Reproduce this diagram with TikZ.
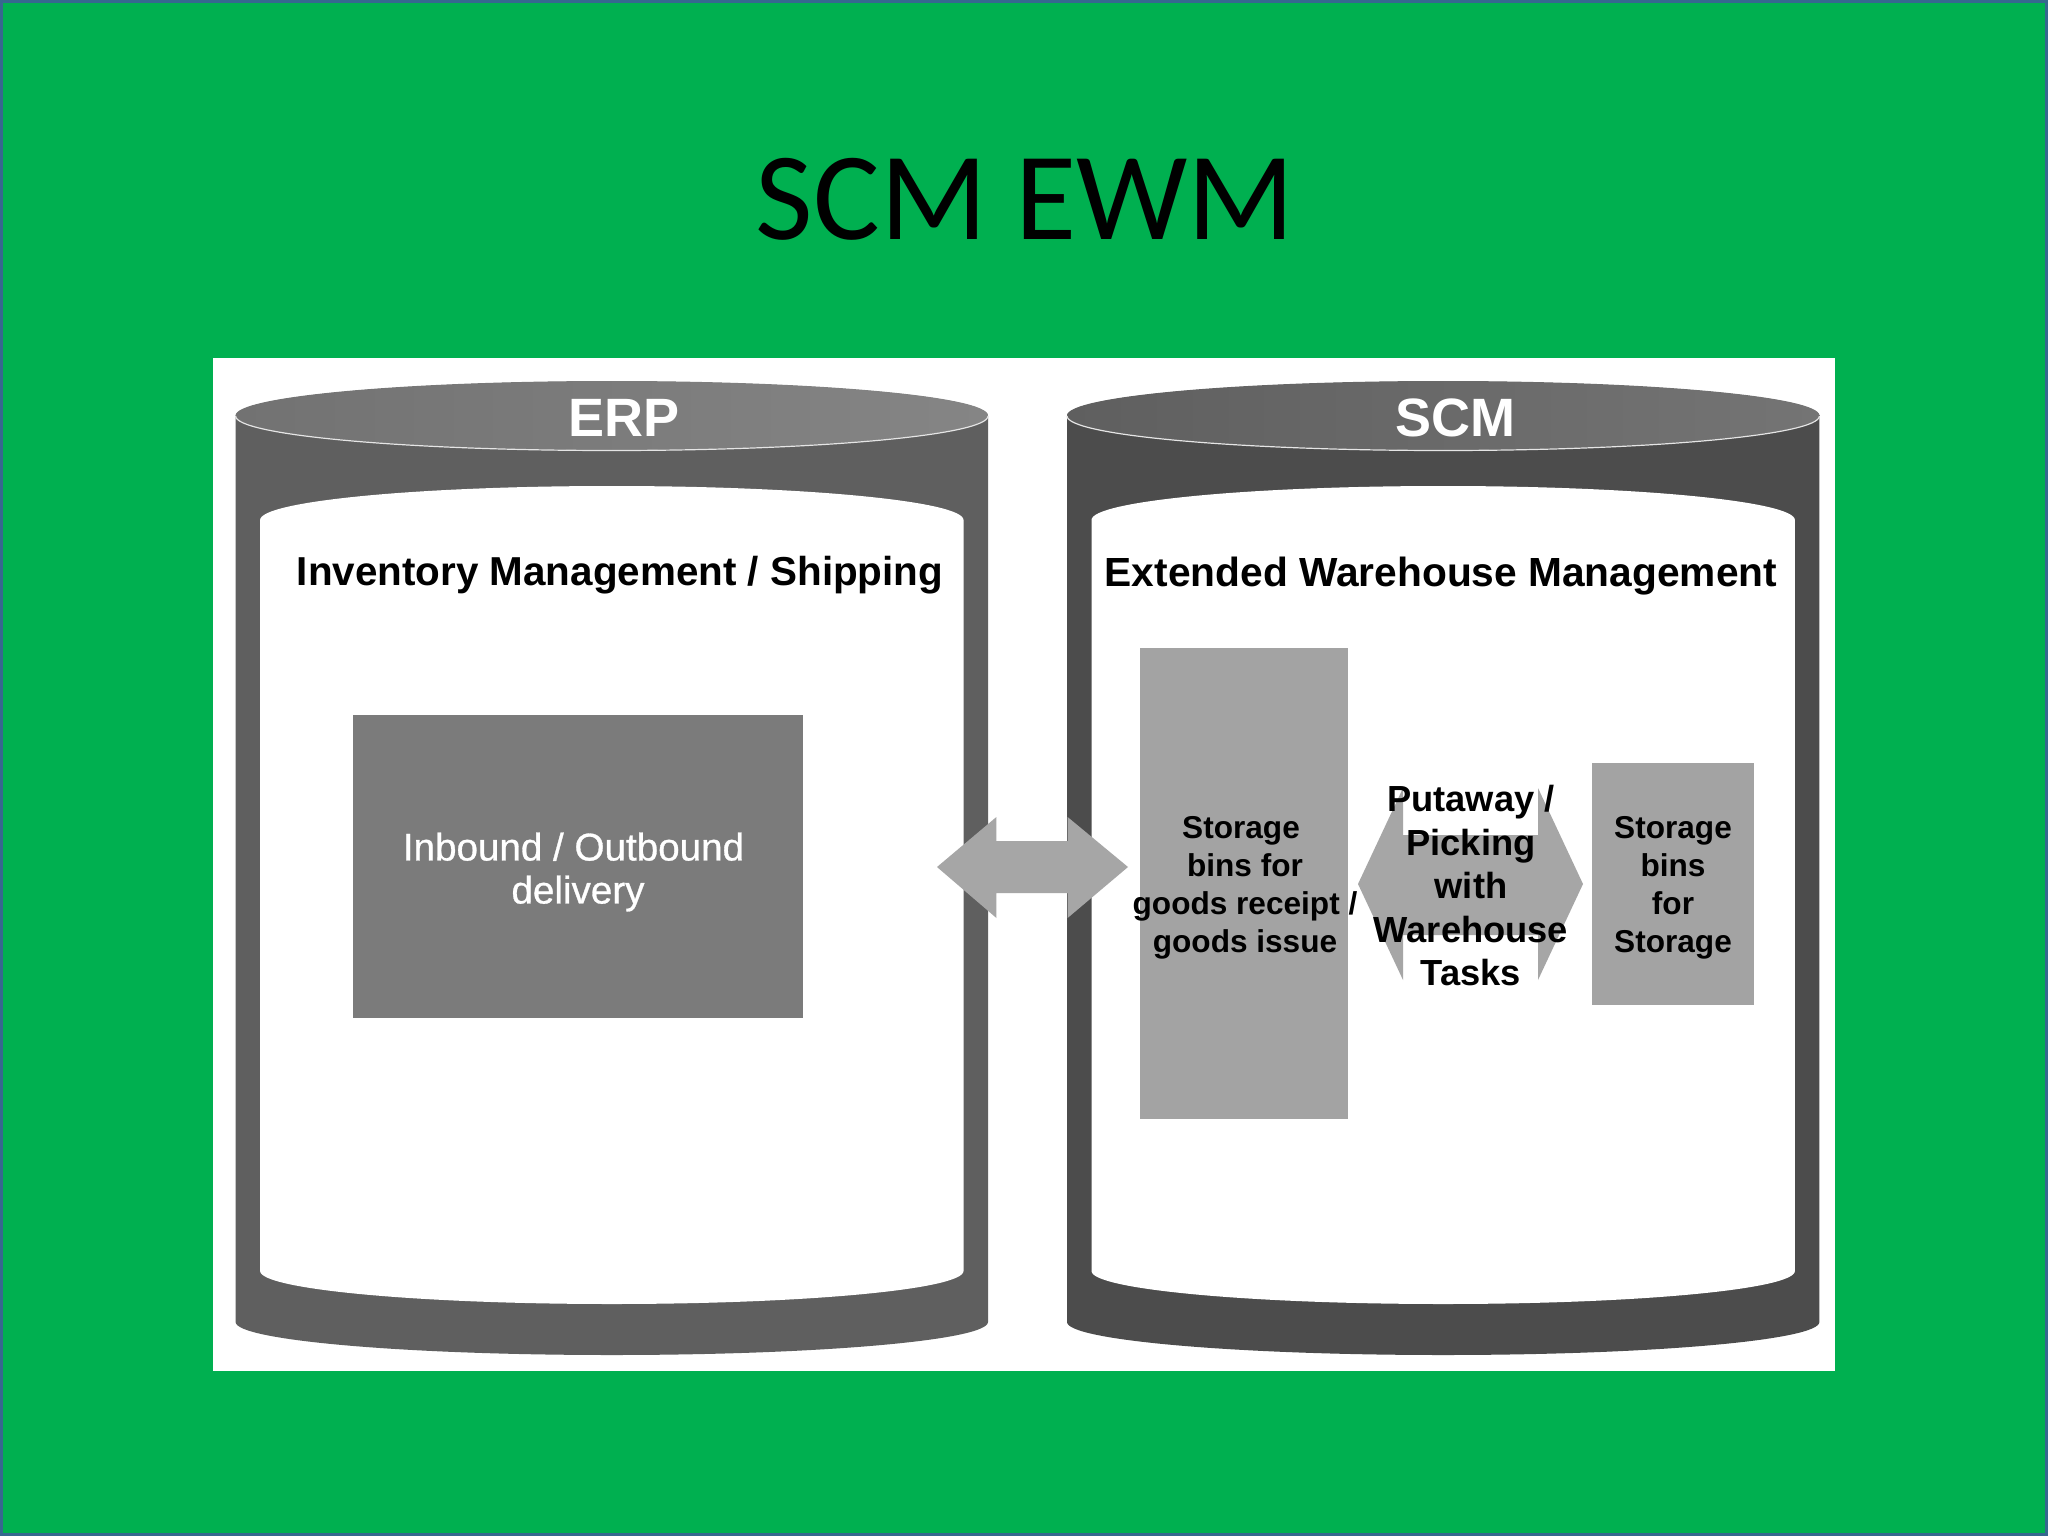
\documentclass[tikz,border=0pt]{standalone}
\usepackage{fontspec}
\setmainfont{Liberation Sans}
\newfontfamily\titlefont{Carlito}
\newfontfamily\semibold[FakeBold=0.8]{Liberation Sans}
\definecolor{bggreen}{HTML}{00B050}
\definecolor{edgeblue}{HTML}{36688F}
\definecolor{erpbody}{HTML}{5F5F5F}
\definecolor{erptopL}{HTML}{727272}
\definecolor{erptopR}{HTML}{858585}
\definecolor{scmbody}{HTML}{4C4C4C}
\definecolor{scmtopL}{HTML}{5F5F5F}
\definecolor{scmtopR}{HTML}{747474}
\definecolor{boxdark}{HTML}{7B7B7B}
\definecolor{boxlight}{HTML}{A3A3A3}
\definecolor{arrowgrey}{HTML}{A6A6A6}
\tikzset{
  label base/.style={inner sep=0pt,outer sep=0pt,align=center,font=\bfseries},
  hdr/.style={label base,text=white,font=\fontsize{54}{60}\selectfont\bfseries},
  subhdr/.style={label base,text=black,font=\fontsize{40.4}{46}\selectfont\bfseries},
  smalltxt/.style={label base,text=black,font=\fontsize{31.6}{37.9}\selectfont\bfseries},
  midtxt/.style={label base,text=black,font=\fontsize{36.3}{43.5}\selectfont\bfseries},
  whitetxt/.style={inner sep=0pt,outer sep=0pt,align=center,text=white,font=\fontsize{38.6}{43}\selectfont\semibold},
}
% #1 left x, #2 body colour, #3 top left colour, #4 top right colour
\newcommand{\drumdraw}[4]{%
  \fill[#2] (#1,416) arc[x radius=376.2,y radius=34.5,start angle=180,end angle=360]
     -- (#1+752.4,1322) arc[x radius=376.2,y radius=33,start angle=0,end angle=180] -- cycle;
  \fill[white] (#1+24.5,520) arc[x radius=351.7,y radius=34,start angle=180,end angle=360]
     -- (#1+727.9,1271) arc[x radius=351.7,y radius=33,start angle=0,end angle=180] -- cycle;
  \shade[left color=#3,right color=#4] (#1+376.2,415.5) ellipse[x radius=376.2,y radius=34.5];
  \draw[white!80!gray,line width=1.2pt] (#1,416) arc[x radius=376.2,y radius=34.5,start angle=180,end angle=0];
}
\begin{document}
\begin{tikzpicture}[x=1pt,y=1pt,yscale=-1]
\useasboundingbox (0,0) rectangle (2048,1536);
\fill[bggreen] (0,0) rectangle (2048,1536);
\draw[edgeblue,line width=3pt] (1.5,1.5) rectangle (2046.5,1534.5);
\node[anchor=base,inner sep=0pt,font=\fontsize{125.2}{130}\selectfont\titlefont,text=black] (title) at (1025.5,239) {SCM EWM};
\fill[white] (213,358) rectangle (1835,1371);
\drumdraw{235.6}{erpbody}{erptopL}{erptopR}
\drumdraw{1067}{scmbody}{scmtopL}{scmtopR}
\node[hdr] (erp) at (624,418) {ERP};
\node[hdr] (scm) at (1455,418) {SCM};
\node[subhdr] (inv) at (620,575) {Inventory Management / Shipping};
\node[subhdr,font=\fontsize{40.7}{46}\selectfont\bfseries] (ewm) at (1441,576) {Extended Warehouse Management};
\fill[boxdark] (353,715) rectangle (803,1018);
\node[whitetxt] (inbound) at (578,872) {Inbound / Outbound\hspace*{9pt}\\delivery};
\fill[boxlight] (1140,648) rectangle (1348,1119);
\fill[boxlight] (1592,763) rectangle (1754,1005);
\fill[arrowgrey] (937,867) -- (996.4,817) -- (996.4,841) -- (1067.6,841) -- (1067.6,817) -- (1128,867)
   -- (1067.6,918) -- (1067.6,893) -- (996.4,893) -- (996.4,918) -- cycle;
\fill[arrowgrey] (1358,884) -- (1403,788) -- (1403,835) -- (1538,835) -- (1538,788) -- (1583,884)
   -- (1538,980) -- (1538,935) -- (1403,935) -- (1403,980) -- cycle;
\node[smalltxt] (gr) at (1245,888) {Storage\hspace*{8pt}\\bins for\\goods receipt /\\goods issue};
\node[smalltxt] (st) at (1673,888) {Storage\\bins\\for\\Storage};
\node[midtxt] (put) at (1471,886) {Putaway /\\Picking\\with\\Warehouse\\Tasks};
\end{tikzpicture}
\end{document}
